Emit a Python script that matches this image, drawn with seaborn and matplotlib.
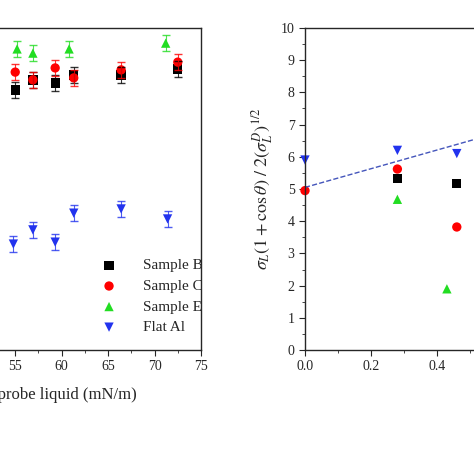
import matplotlib
matplotlib.use("Agg")
import matplotlib.pyplot as plt
import seaborn as sns
import numpy as np
from matplotlib.ticker import MultipleLocator

sns.set_style("ticks")
plt.rcParams['font.family'] = ['Liberation Serif', 'DejaVu Serif']
plt.rcParams['mathtext.fontset'] = 'stix'

# Left panel data (surface tension vs. quantity, arbitrary visible scale)
b_x = [55.0, 56.9, 59.3, 61.3, 66.4, 72.5]
b_y = [80.7, 83.9, 82.9, 85.4, 85.4, 87.3]
c_x = [55.0, 56.9, 59.3, 61.3, 66.4, 72.5]
c_y = [86.3, 83.9, 87.6, 84.5, 87.0, 89.4]
e_x = [55.2, 56.9, 60.8, 71.2]
e_y = [93.5, 92.2, 93.5, 95.3]
f_x = [54.8, 56.9, 59.3, 61.3, 66.4, 71.4]
f_y = [32.9, 37.3, 33.5, 42.5, 43.8, 40.7]
err = 2.5

# Right panel data
rb_x = [0.28, 0.46]; rb_y = [5.33, 5.18]
rc_x = [0.0, 0.28, 0.46]; rc_y = [4.95, 5.62, 3.82]
re_x = [0.28, 0.43]; re_y = [4.68, 1.9]
rf_x = [0.0, 0.28, 0.46]; rf_y = [5.9, 6.2, 6.1]
fit_intercept, fit_slope = 5.05, 2.9

W = 474
fig = plt.figure(figsize=(4.74, 4.74), dpi=100)
ax1 = fig.add_axes([-217/W, 1-350/W, (201+217)/W, 322/W])
ax2 = fig.add_axes([305/W, 1-350/W, (503-305)/W, 322/W])

series = [(b_x, b_y, 'black', 's', 'Sample B'), (c_x, c_y, 'red', 'o', 'Sample C'),
          (e_x, e_y, '#22dd22', '^', 'Sample E'), (f_x, f_y, '#2233ee', 'v', 'Flat Al')]
for x, y, col, m, lab in series:
    ax1.errorbar(x, y, yerr=err, fmt='none', ecolor=col, elinewidth=0.8, capsize=3, alpha=0.8)
    sns.scatterplot(x=x, y=y, color=col, marker=m, s=45, edgecolor='none', ax=ax1, label=lab)
ax1.set_xlim(30, 75)
ax1.set_ylim(0, 100)
ax1.xaxis.set_major_locator(MultipleLocator(5))
ax1.xaxis.set_minor_locator(MultipleLocator(2.5))
ax1.set_xlabel("Surface tension of the probe liquid (mN/m)", fontsize=12, labelpad=10)
ax1.legend(loc='upper left', bbox_to_anchor=(80/W, 1-245/W), bbox_transform=fig.transFigure,
           frameon=False, fontsize=11, handletextpad=1.2, labelspacing=0.45)

rseries = [(rb_x, rb_y, 'black', 's'), (rc_x, rc_y, 'red', 'o'),
           (re_x, re_y, '#22dd22', '^'), (rf_x, rf_y, '#2233ee', 'v')]
for x, y, col, m in rseries:
    sns.scatterplot(x=x, y=y, color=col, marker=m, s=45, edgecolor='none', ax=ax2, clip_on=False)
lx = np.array([0.0, 0.6])
ax2.plot(lx, fit_intercept + fit_slope*lx, '--', color='#4455bb', lw=1)
ax2.set_xlim(0, 0.6)
ax2.set_ylim(0, 10)
ax2.xaxis.set_major_locator(MultipleLocator(0.2))
ax2.xaxis.set_minor_locator(MultipleLocator(0.1))
ax2.yaxis.set_major_locator(MultipleLocator(1))
ax2.yaxis.set_minor_locator(MultipleLocator(0.5))
ax2.set_ylabel(r"$\sigma_L(1+\cos\theta)\ /\ 2(\sigma_L^D)^{1/2}$", fontsize=13)

for ax in (ax1, ax2):
    ax.tick_params(direction='out', which='both', labelsize=10, top=False, right=False)
    ax.tick_params(which='major', length=4)
    ax.tick_params(which='minor', length=2)
    for s in ax.spines.values():
        s.set_linewidth(1.0)
        s.set_visible(True)

fig.savefig("out.png", dpi=100)
